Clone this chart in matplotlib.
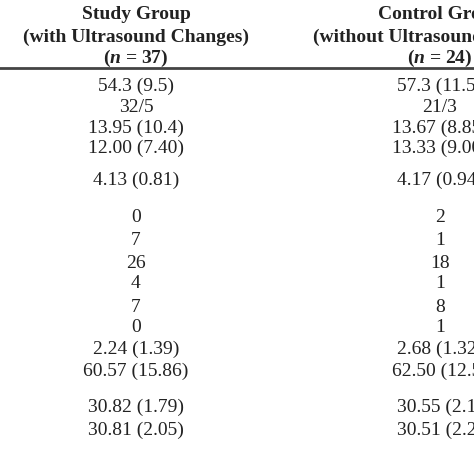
import matplotlib
matplotlib.use("Agg")
import matplotlib.pyplot as plt

header_study = ["Study Group", "(with Ultrasound Changes)", "($\\mathit{n}$ = 37)"]
header_control = ["Control Group", "(without Ultrasound Changes)", "($\\mathit{n}$ = 24)"]
study = ["54.3 (9.5)", "32/5", "13.95 (10.4)", "12.00 (7.40)", "4.13 (0.81)",
         "0", "7", "26", "4", "7", "0", "2.24 (1.39)", "60.57 (15.86)",
         "30.82 (1.79)", "30.81 (2.05)"]
control = ["57.3 (11.5)", "21/3", "13.67 (8.85)", "13.33 (9.00)", "4.17 (0.94)",
           "2", "1", "18", "1", "8", "1", "2.68 (1.32)", "62.50 (12.5)",
           "30.55 (2.1)", "30.51 (2.2)"]
row_y = [86, 107, 128, 148, 180, 217, 240, 263, 284, 307, 328, 349, 371, 407, 430]
header_y = [14, 37, 58]

plt.rcParams['mathtext.fontset'] = 'custom'
plt.rcParams['mathtext.it'] = 'Liberation Serif:italic:bold'
fig = plt.figure(figsize=(4.74, 4.74), dpi=100)
ax = fig.add_axes([0, 0, 1, 1])
ax.set_xlim(0, 474)
ax.set_ylim(474, 0)
ax.axis('off')
fam = 'Liberation Serif'
fs = 14
for y, a, b in zip(header_y, header_study, header_control):
    ax.text(136, y, a, ha='center', va='center', family=fam, fontsize=fs, fontweight='bold', color='#222')
    ax.text(440, y, b, ha='center', va='center', family=fam, fontsize=fs, fontweight='bold', color='#222')
ax.plot([0, 474], [68, 68], color='#444', lw=2)
for y, a, b in zip(row_y, study, control):
    ax.text(136, y, a, ha='center', va='center', family=fam, fontsize=fs, color='#222')
    ax.text(440, y, b, ha='center', va='center', family=fam, fontsize=fs, color='#222')
fig.savefig("out.png", dpi=100)
